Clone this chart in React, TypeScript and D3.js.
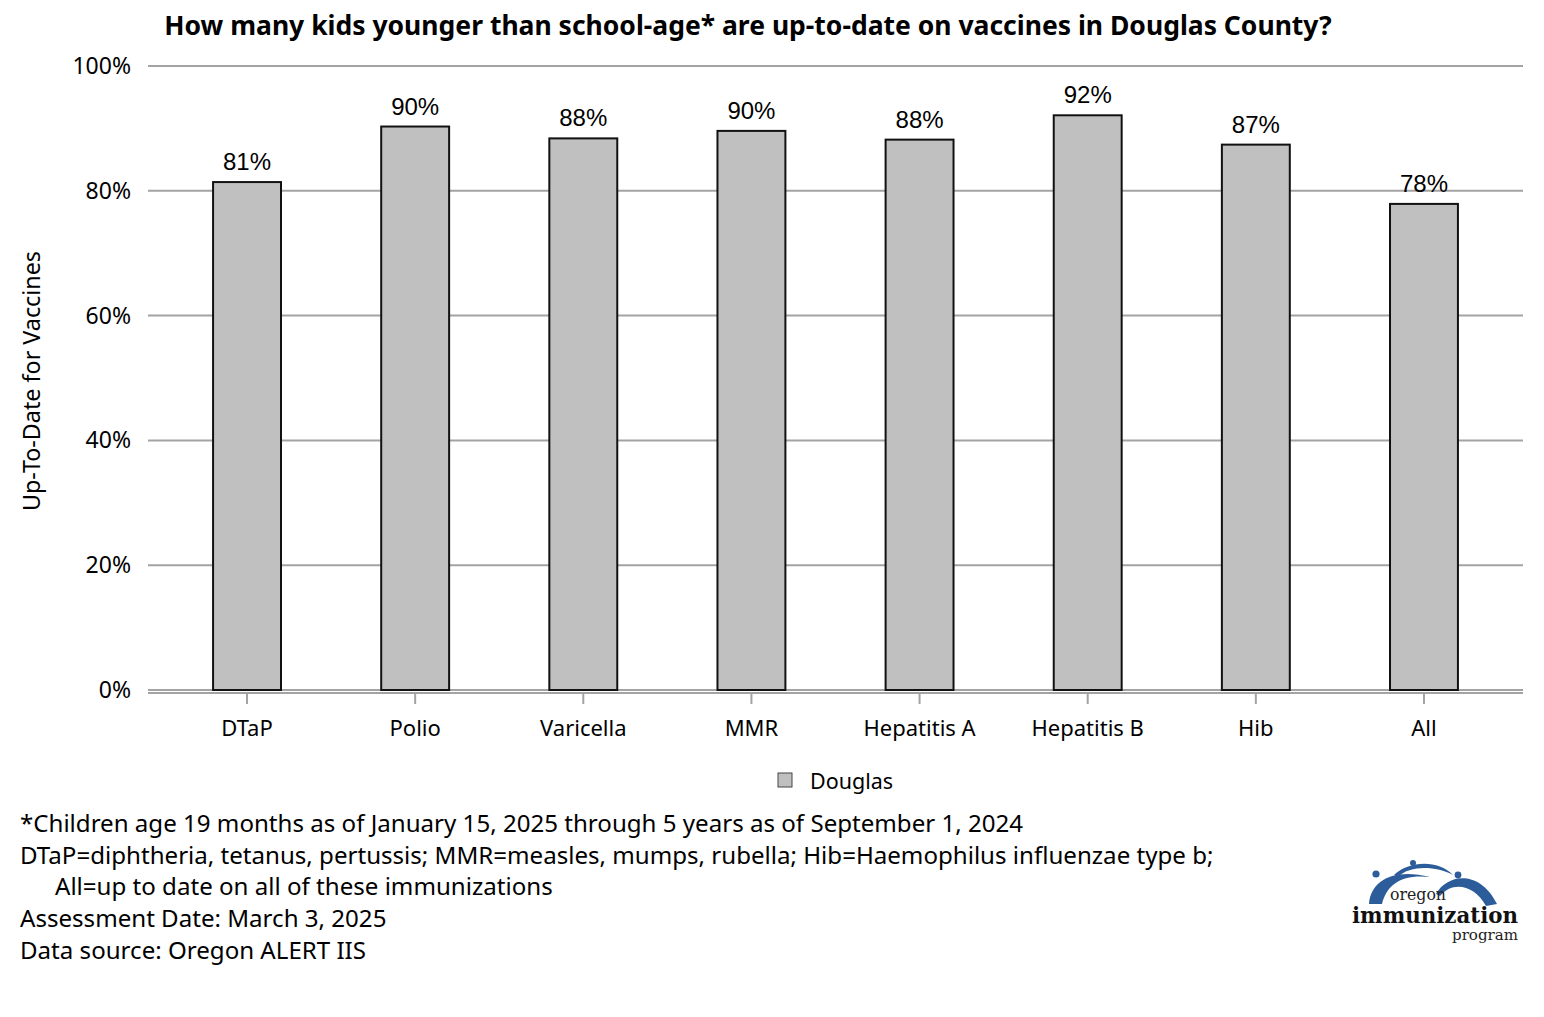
import React from 'react';
import * as d3 from 'd3';

const categories = ['DTaP', 'Polio', 'Varicella', 'MMR', 'Hepatitis A', 'Hepatitis B', 'Hib', 'All'];
const douglasValues = [81.4, 90.3, 88.4, 89.6, 88.2, 92.1, 87.4, 77.9];
const yTicks = [0, 20, 40, 60, 80, 100];
const footnotes = [
  '*Children age 19 months as of January 15, 2025 through 5 years as of September 1, 2024',
  'DTaP=diphtheria, tetanus, pertussis; MMR=measles, mumps, rubella; Hib=Haemophilus influenzae type b;',
  'All=up to date on all of these immunizations',
  'Assessment Date: March 3, 2025',
  'Data source: Oregon ALERT IIS',
];

const W = 1544;
const H = 1017;
const plotLeft = 148;
const plotRight = 1523;
const plotTop = 66;
const plotBottom = 690;

const sans = '"Noto Sans", "Open Sans", sans-serif';
const arial = '"Liberation Sans", Arial, sans-serif';
const serif = '"DejaVu Serif", "Liberation Serif", serif';

const OregonLogo: React.FC = () => {
  const blue = '#2c5d9a';
  return (
    <g>
      {/* three linked figures arching over the word "oregon" */}
      <path d="M1369,904 C1371,880 1394,868 1430,877 C1402,874 1387,884 1382,904 Z" fill={blue} />
      <circle cx={1376} cy={874} r={3.6} fill={blue} />
      <path d="M1394,875 C1408,861 1438,859 1453,875 C1436,866 1410,865 1398,877 Z" fill={blue} />
      <circle cx={1413} cy={863} r={3} fill={blue} />
      <path d="M1436,894 C1448,873 1480,870 1497,904 L1486,906 C1474,884 1452,881 1440,896 Z" fill={blue} />
      <circle cx={1458} cy={875} r={3.4} fill={blue} />
      <text x={1390} y={900} fontFamily={serif} fontSize={17} fill="#222" textLength={56} lengthAdjust="spacingAndGlyphs">
        oregon
      </text>
      <text x={1352} y={923} fontFamily={serif} fontSize={22} fontWeight="bold" fill="#111" textLength={166} lengthAdjust="spacingAndGlyphs">
        immunization
      </text>
      <text x={1452} y={940} fontFamily={serif} fontSize={15} fill="#222" textLength={66} lengthAdjust="spacingAndGlyphs">
        program
      </text>
    </g>
  );
};

const App: React.FC = () => {
  const xScale = d3
    .scaleBand<string>()
    .domain(categories)
    .range([plotLeft, plotRight])
    .paddingInner(0.596)
    .paddingOuter(0.387);

  const yScale = d3.scaleLinear().domain([0, 100]).range([plotBottom, plotTop]);

  return (
    <div style={{ position: 'absolute', left: 0, top: 0 }}>
      <svg width={W} height={H} style={{ display: 'block', background: '#fff' }}>
        {/* title */}
        <text x={748} y={35} textAnchor="middle" fontFamily={sans} fontWeight="bold" fontSize={26.5} fill="#000">
          How many kids younger than school-age* are up-to-date on vaccines in Douglas County?
        </text>

        {/* horizontal gridlines + y labels */}
        {yTicks.map((t) => (
          <g key={t}>
            <line x1={plotLeft} x2={plotRight} y1={yScale(t)} y2={yScale(t)} stroke="#a3a3a3" strokeWidth={2} />
            <text x={131} y={yScale(t) + 8} textAnchor="end" fontFamily={sans} fontSize={23} fill="#000">
              {t}%
            </text>
          </g>
        ))}

        {/* category axis */}
        <line x1={plotLeft} x2={plotRight} y1={693} y2={693} stroke="#a3a3a3" strokeWidth={2} />
        {categories.map((c) => {
          const cx = (xScale(c) || 0) + xScale.bandwidth() / 2;
          return (
            <g key={c}>
              <line x1={cx} x2={cx} y1={693} y2={704} stroke="#a3a3a3" strokeWidth={2} />
              <text x={cx} y={736} textAnchor="middle" fontFamily={sans} fontSize={22} fill="#000">
                {c}
              </text>
            </g>
          );
        })}

        {/* bars */}
        {categories.map((c, i) => {
          const v = douglasValues[i];
          const x = xScale(c) || 0;
          return (
            <g key={c}>
              <rect
                x={x}
                y={yScale(v)}
                width={xScale.bandwidth()}
                height={plotBottom - yScale(v)}
                fill="#c0c0c0"
                stroke="#111"
                strokeWidth={2}
              />
              <text
                x={x + xScale.bandwidth() / 2}
                y={yScale(v) - 12}
                textAnchor="middle"
                fontFamily={arial}
                fontSize={24}
                fill="#000"
              >
                {Math.round(v)}%
              </text>
            </g>
          );
        })}

        {/* y axis title */}
        <text
          transform="translate(40,381) rotate(-90)"
          textAnchor="middle"
          fontFamily={sans}
          fontSize={23.3}
          fill="#000"
        >
          Up-To-Date for Vaccines
        </text>

        {/* legend */}
        <rect x={778} y={773} width={14} height={14} fill="#c0c0c0" stroke="#444" strokeWidth={1} />
        <text x={810} y={789} fontFamily={sans} fontSize={21.5} fill="#000">
          Douglas
        </text>

        {/* notes */}
        {footnotes.map((line, i) => (
          <text key={i} x={i === 2 ? 55 : 20} y={832 + i * 31.7} fontFamily={sans} fontSize={24.1} fill="#000">
            {line}
          </text>
        ))}

        <OregonLogo />
      </svg>
    </div>
  );
};

export default App;
